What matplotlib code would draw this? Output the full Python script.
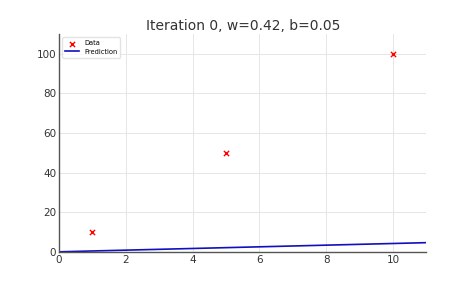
import numpy as np
import matplotlib
matplotlib.use("Agg")
import matplotlib.pyplot as plt

# data points and current model params
x_data = [1, 5, 10]
y_data = [10, 50, 100]
w, b = 0.42, 0.05
iteration = 0

x_line = np.array([0, 11])
y_line = w * x_line + b

fig = plt.figure(figsize=(4.74, 2.84), dpi=100)
ax = fig.add_axes([0.1245, 0.113, 0.775, 0.767])

ax.scatter(x_data, y_data, marker="x", color="red", s=14, linewidths=1.0, label="Data", zorder=3)
ax.plot(x_line, y_line, color="#1010c0", linewidth=1.2, label="Prediction")

ax.set_xlim(0, 11)
ax.set_ylim(0, 110)
ax.set_xticks([0, 2, 4, 6, 8, 10])
ax.set_yticks([0, 20, 40, 60, 80, 100])
ax.grid(color="#e6e6e6", linewidth=0.7)
ax.set_axisbelow(True)
for s in ["top", "right"]:
    ax.spines[s].set_visible(False)
for s in ["left", "bottom"]:
    ax.spines[s].set_color("#555555")
    ax.spines[s].set_linewidth(1.0)
ax.tick_params(length=0, labelsize=7.5, colors="#333333", pad=2)

ax.set_title(f"Iteration {iteration}, w={w}, b={b}", fontsize=10, color="#333333", pad=3)
ax.legend(loc="upper left", fontsize=4.8, frameon=True, edgecolor="#dddddd",
          handlelength=2.0, borderpad=0.45, labelspacing=0.35)

fig.savefig("out.png", dpi=100)
